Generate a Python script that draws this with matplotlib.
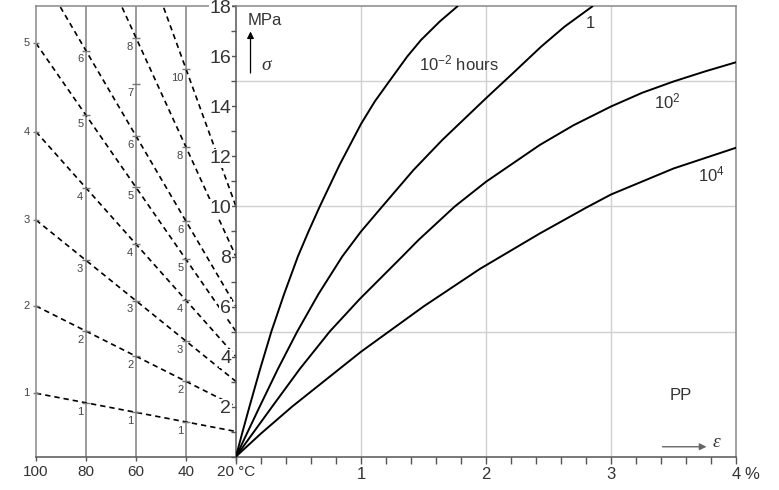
import numpy as np
import matplotlib
matplotlib.use("Agg")
import matplotlib.pyplot as plt

plt.rcParams['font.family'] = ['Liberation Sans', 'DejaVu Sans']
plt.rcParams['mathtext.fontset'] = 'custom'
plt.rcParams['mathtext.rm'] = 'Liberation Sans'
plt.rcParams['mathtext.default'] = 'regular'

# isochronous stress-strain curves for PP at 20 °C (strain in %, stress in MPa)
eps_1e_2 = [0, 0.053, 0.108, 0.193, 0.283, 0.385, 0.495, 0.58, 0.67, 0.828, 1.0,
            1.11, 1.225, 1.37, 1.48, 1.63, 1.77]
sig_1e_2 = [0, 1.0, 2.0, 3.5, 5.0, 6.5, 8.0, 9.0, 10.0, 11.66, 13.3,
            14.2, 15.0, 16.0, 16.66, 17.4, 18.0]
eps_1 = [0, 0.19, 0.335, 0.49, 0.66, 0.85, 1.0, 1.17, 1.42, 1.65, 2.0,
         2.215, 2.44, 2.63, 2.85]
sig_1 = [0, 2.0, 3.5, 5.0, 6.5, 8.0, 9.0, 10.0, 11.46, 12.66, 14.33,
         15.33, 16.39, 17.2, 18.0]
eps_1e2 = [0, 0.29, 0.51, 0.75, 0.99, 1.33, 1.46, 1.75, 2.0, 2.43, 2.7,
           3.0, 3.25, 3.5, 3.75, 4.0]
sig_1e2 = [0, 2.0, 3.5, 5.0, 6.3, 8.0, 8.66, 10.0, 10.99, 12.46, 13.25,
           14.0, 14.55, 15.0, 15.4, 15.77]
eps_1e4 = [0, 0.2, 0.45, 1.0, 1.5, 1.95, 2.43, 2.8, 3.0, 3.5, 4.0]
sig_1e4 = [0, 0.92, 2.0, 4.19, 6.0, 7.5, 8.92, 9.95, 10.48, 11.52, 12.35]

# temperature nomogram: dashed line joins stress at 20 °C (right) to 100 °C scale (left)
nomo_sigma20 = [1, 2, 3, 4, 5, 6, 8, 10]
nomo_pos100 = [2.53, 6.02, 9.46, 12.99, 16.53, 19.64, 25.5, 32.0]
scale_temps = [80, 60, 40]
extra_marks = [(60, 7, 14.9)]  # mark with no dashed line through it

W, H = 779, 490
fig = plt.figure(figsize=(W / 100, H / 100), dpi=100)
axL = fig.add_axes([36 / W, 33.5 / H, 200 / W, 450 / H])
axR = fig.add_axes([236 / W, 33.5 / H, 500 / W, 450 / H])

TXT = '#333333'
GRID = '#d0d0d0'

# ---- left panel: nomogram
axL.set_xlim(100, 20)
axL.set_ylim(0, 18)
for T in scale_temps:
    axL.axvline(T, color='#8a8a8a', lw=1.2, zorder=1)


def pos(T, s20, p100):
    return s20 + (p100 - s20) * (T - 20) / 80.0


for s20, p100 in zip(nomo_sigma20, nomo_pos100):
    axL.plot([100, 20], [p100, s20], color='black', lw=1.2,
             ls=(0, (3.2, 2.4)), zorder=2)

# marks + labels at 100 °C
for s20, p100 in zip(nomo_sigma20, nomo_pos100):
    if p100 <= 18:
        axL.plot([100], [p100], marker='_', ms=4, mew=1, color='#777', clip_on=False)
        axL.annotate(str(s20), (100, p100), xytext=(-4.5, 0), textcoords='offset points',
                     ha='right', va='center', fontsize=8, color='#444')

# marks + labels on the 80/60/40 °C scales
marks = []
for T in scale_temps:
    for s20, p100 in zip(nomo_sigma20, nomo_pos100):
        y = pos(T, s20, p100)
        if y <= 18:
            marks.append((T, s20, y))
marks += extra_marks
for T, v, y in marks:
    axL.plot([T], [y], marker='_', ms=5.5, mew=1, color='#777', zorder=3)
    axL.annotate(str(v), (T, y), xytext=(-2, -6.3), textcoords='offset points',
                 ha='right', va='center', fontsize=8, color='#444')

axL.set_xticks([100, 80, 60, 40, 20])
axL.set_xticklabels(['100', '80', '60', '40', '20 °C'])
axL.set_yticks([])
axL.tick_params(axis='x', direction='out', length=3, width=1, color='#555',
                labelsize=11, labelcolor=TXT, pad=3)
axL.spines['right'].set_visible(False)
axL.spines['left'].set_color('#888')
axL.spines['top'].set_color('#888')
axL.spines['bottom'].set_color('#555')
for s in axL.spines.values():
    s.set_linewidth(1.1)

# ---- right panel: isochronous curves
axR.set_xlim(0, 4)
axR.set_ylim(0, 18)
for g in [1, 2, 3]:
    axR.axvline(g, color=GRID, lw=1, zorder=0)
for g in [5, 10, 15]:
    axR.axhline(g, color=GRID, lw=1, zorder=0)

for e, s in [(eps_1e_2, sig_1e_2), (eps_1, sig_1), (eps_1e2, sig_1e2), (eps_1e4, sig_1e4)]:
    axR.plot(e, s, color='black', lw=1.4, solid_joinstyle='round', zorder=3)

xt = np.round(np.arange(0, 4.01, 0.2), 1)
axR.set_xticks(xt)
axR.set_xticklabels([str(int(v)) if v in (1, 2, 3, 4) else '' for v in xt])
yt = np.arange(0, 19)
axR.set_yticks(yt)
axR.set_yticklabels([str(v) if v % 2 == 0 and v > 0 else '' for v in yt])
axR.tick_params(axis='x', direction='out', length=5, width=1, color='#555',
                labelsize=12, labelcolor=TXT, pad=2.5)
axR.tick_params(axis='y', direction='out', length=3.5, width=1, color='#555',
                labelsize=14, labelcolor=TXT, pad=0)
for lbl in axR.get_yticklabels():
    lbl.set_bbox(dict(facecolor='white', edgecolor='none', pad=0.6))
axR.annotate('%', (4, 0), xytext=(6, -7.5), textcoords='offset points',
             ha='left', va='top', fontsize=12, color=TXT)

axR.spines['left'].set_color('#555')
axR.spines['bottom'].set_color('#555')
axR.spines['top'].set_color('#888')
axR.spines['right'].set_color('#888')
for s in axR.spines.values():
    s.set_linewidth(1.1)

# curve labels
axR.text(1.78, 15.74, '10$^{-2}$ hours', fontsize=12, color=TXT, ha='center', va='center')
axR.text(2.836, 17.3, '1', fontsize=12, color=TXT, ha='center', va='center')
axR.text(3.45, 14.22, '10$^2$', fontsize=12, color=TXT, ha='center', va='center')
axR.text(3.8, 11.3, '10$^4$', fontsize=12, color=TXT, ha='center', va='center')
axR.text(3.556, 2.46, 'PP', fontsize=12, color=TXT, ha='center', va='center')

# axis quantity arrows
axR.annotate('', xy=(0.116, 17.0), xytext=(0.116, 15.34),
             arrowprops=dict(arrowstyle='-|>', color='black', lw=0.9, mutation_scale=10,
                             shrinkA=0, shrinkB=0))
axR.text(0.228, 17.42, 'MPa', fontsize=12, color=TXT, ha='center', va='center')
axR.text(0.245, 15.66, 'σ', fontsize=14, color=TXT, ha='center', va='center',
         family='Liberation Serif', style='italic')
axR.annotate('', xy=(3.764, 0.39), xytext=(3.412, 0.39),
             arrowprops=dict(arrowstyle='-|>', color='#666', lw=1.0, mutation_scale=10,
                             shrinkA=0, shrinkB=0))
axR.text(3.81, 0.56, 'ε', fontsize=14, color=TXT, ha='left', va='center',
         family='Liberation Serif', style='italic')

fig.savefig('out.png', dpi=100)
